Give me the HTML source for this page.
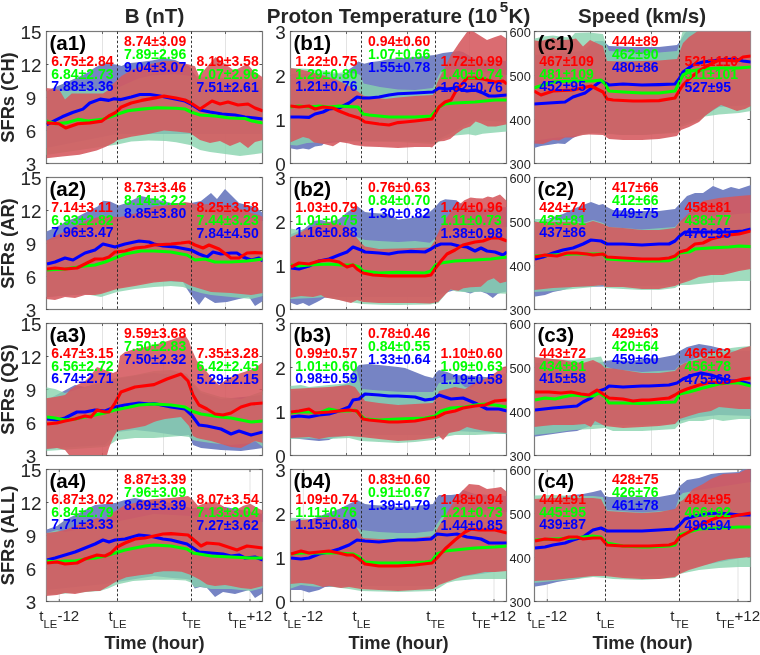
<!DOCTYPE html><html><head><meta charset="utf-8"><style>html,body{margin:0;padding:0;background:#fff;width:760px;height:655px;overflow:hidden}svg{display:block;will-change:transform}</style></head><body>
<svg width="760" height="655" viewBox="0 0 760 655" font-family='"Liberation Sans", sans-serif'>
<rect width="760" height="655" fill="#fff"/>
<g>
<clipPath id="cpa1"><rect x="46.5" y="31.5" width="216" height="132"/></clipPath>
<line x1="102.5" y1="31.5" x2="102.5" y2="163.5" stroke="#e3e3e3" stroke-width="1"/>
<line x1="163.5" y1="31.5" x2="163.5" y2="163.5" stroke="#e3e3e3" stroke-width="1"/>
<line x1="225.5" y1="31.5" x2="225.5" y2="163.5" stroke="#e3e3e3" stroke-width="1"/>
<rect x="46.5" y="31.5" width="216" height="132" fill="none" stroke="#7a7a7a" stroke-width="1.2"/>
<line x1="46" y1="163.5" x2="48.5" y2="163.5" stroke="#555" stroke-width="1"/>
<line x1="262" y1="163.5" x2="259.5" y2="163.5" stroke="#555" stroke-width="1"/>
<line x1="46" y1="130.5" x2="48.5" y2="130.5" stroke="#555" stroke-width="1"/>
<line x1="262" y1="130.5" x2="259.5" y2="130.5" stroke="#555" stroke-width="1"/>
<line x1="46" y1="97.5" x2="48.5" y2="97.5" stroke="#555" stroke-width="1"/>
<line x1="262" y1="97.5" x2="259.5" y2="97.5" stroke="#555" stroke-width="1"/>
<line x1="46" y1="64.5" x2="48.5" y2="64.5" stroke="#555" stroke-width="1"/>
<line x1="262" y1="64.5" x2="259.5" y2="64.5" stroke="#555" stroke-width="1"/>
<line x1="46" y1="31.5" x2="48.5" y2="31.5" stroke="#555" stroke-width="1"/>
<line x1="262" y1="31.5" x2="259.5" y2="31.5" stroke="#555" stroke-width="1"/>
<line x1="102.5" y1="163.5" x2="102.5" y2="161.0" stroke="#666" stroke-width="1"/>
<line x1="102.5" y1="31.5" x2="102.5" y2="34.0" stroke="#666" stroke-width="1"/>
<line x1="163.5" y1="163.5" x2="163.5" y2="161.0" stroke="#666" stroke-width="1"/>
<line x1="163.5" y1="31.5" x2="163.5" y2="34.0" stroke="#666" stroke-width="1"/>
<line x1="225.5" y1="163.5" x2="225.5" y2="161.0" stroke="#666" stroke-width="1"/>
<line x1="225.5" y1="31.5" x2="225.5" y2="34.0" stroke="#666" stroke-width="1"/>
<g clip-path="url(#cpa1)">
<polygon points="46.0,92.0 53.0,88.0 65.0,83.0 85.0,74.0 96.0,67.0 104.0,63.0 112.0,64.0 117.3,64.8 121.5,65.9 127.8,63.3 138.3,62.2 152.0,60.4 164.0,58.0 175.0,60.0 189.0,66.0 200.0,82.0 263.0,88.0 263.0,134.0 117.0,134.0 46.0,148.0" fill="rgb(118,132,196)" fill-opacity="1"/>
<polygon points="46.0,91.0 59.0,91.0 71.0,91.0 105.0,89.0 111.0,89.0 117.3,88.0 127.8,83.3 138.3,78.5 152.0,75.4 175.0,74.0 190.0,76.0 263.0,80.0 263.0,153.0 240.0,156.0 225.0,154.0 210.0,152.0 200.0,150.0 190.0,145.0 176.0,142.2 165.7,141.0 148.4,140.4 131.2,141.5 117.4,144.4 46.0,155.0" fill="rgb(136,211,174)" fill-opacity="0.8"/>
<polygon points="46.0,88.0 56.0,89.0 60.0,91.0 65.0,99.5 71.7,93.6 90.3,93.6 103.0,93.6 110.0,89.0 112.0,84.8 117.3,80.1 121.5,75.9 127.8,72.2 134.0,69.0 141.5,66.4 152.0,63.8 164.0,60.9 174.5,61.3 189.0,64.5 195.0,66.3 199.0,76.0 215.6,57.0 227.5,65.8 234.4,70.7 247.2,63.8 253.2,70.7 263.0,77.6 263.0,140.0 255.0,142.0 248.0,148.0 240.0,142.0 230.0,146.0 220.0,141.0 210.0,143.0 200.0,140.0 190.0,133.0 176.0,131.5 164.0,130.6 148.4,134.1 131.2,136.7 117.4,140.1 114.0,142.7 105.3,147.0 96.7,150.4 79.5,154.8 62.2,156.5 46.7,158.2" fill="rgb(213,88,93)" fill-opacity="0.88"/>
<polyline points="46.7,124.6 53.6,121.1 62.2,116.8 72.6,112.5 82.9,109.1 89.8,103.0 100.2,99.1 108.8,100.4 114.0,98.7 120.9,99.6 131.2,97.0 140.0,94.5 150.0,94.5 160.0,96.0 175.0,99.0 185.0,101.0 191.0,104.0 200.0,110.0 210.0,112.0 222.0,114.0 235.0,115.0 245.0,117.0 255.0,118.0 263.0,119.0" fill="none" stroke="#0000ff" stroke-width="3.1" stroke-linejoin="round"/>
<polyline points="46.7,121.1 55.3,123.7 65.7,122.9 77.8,119.4 88.1,121.1 101.9,119.4 110.5,116.8 117.4,114.2 127.8,110.8 141.6,109.1 157.1,107.7 176.0,108.2 185.0,109.0 191.0,112.0 200.0,115.0 215.0,116.0 230.0,118.0 245.0,118.5 252.0,121.0 263.0,123.0" fill="none" stroke="#00ff00" stroke-width="3.1" stroke-linejoin="round"/>
<polyline points="46.7,122.9 58.8,123.7 65.7,128.0 77.8,123.7 89.8,122.9 101.9,121.1 108.8,116.0 115.7,112.5 120.9,107.3 131.2,103.0 141.6,100.4 155.4,97.9 164.0,96.0 176.0,98.0 185.0,100.0 191.0,103.0 200.0,109.0 212.0,101.0 220.0,104.0 228.0,102.0 238.0,105.0 248.0,104.0 255.0,108.0 263.0,111.0" fill="none" stroke="#ff0000" stroke-width="3.1" stroke-linejoin="round"/>
</g>
<line x1="117.5" y1="31.5" x2="117.5" y2="163.5" stroke="#2a2a2a" stroke-width="0.95" stroke-dasharray="2.5,2.1"/>
<line x1="191.5" y1="31.5" x2="191.5" y2="163.5" stroke="#2a2a2a" stroke-width="0.95" stroke-dasharray="2.5,2.1"/>
<text x="31.1" y="170.8" font-size="18.9" text-anchor="middle" fill="#262626">3</text>
<text x="31.1" y="137.8" font-size="18.9" text-anchor="middle" fill="#262626">6</text>
<text x="31.1" y="104.8" font-size="18.9" text-anchor="middle" fill="#262626">9</text>
<text x="31.1" y="71.8" font-size="18.9" text-anchor="middle" fill="#262626">12</text>
<text x="31.1" y="38.8" font-size="18.9" text-anchor="middle" fill="#262626">15</text>
<text x="49.4" y="49.8" font-size="20.6" font-weight="bold" fill="#000">(a1)</text>
<text x="51.3" y="65.5" font-size="14" font-weight="bold" fill="#ff0000">6.75±2.84</text>
<text x="51.3" y="78.5" font-size="14" font-weight="bold" fill="#00ff00">6.84±2.73</text>
<text x="51.3" y="91.0" font-size="14" font-weight="bold" fill="#0000ff">7.88±3.36</text>
<text x="124" y="45.5" font-size="14" font-weight="bold" fill="#ff0000">8.74±3.09</text>
<text x="124" y="58.5" font-size="14" font-weight="bold" fill="#00ff00">7.89±2.96</text>
<text x="124" y="71.5" font-size="14" font-weight="bold" fill="#0000ff">9.04±3.07</text>
<text x="196.5" y="65.5" font-size="14" font-weight="bold" fill="#ff0000">8.19±3.58</text>
<text x="196.5" y="78.5" font-size="14" font-weight="bold" fill="#00ff00">7.07±2.96</text>
<text x="196.5" y="91.5" font-size="14" font-weight="bold" fill="#0000ff">7.51±2.61</text>
<g>
<clipPath id="cpb1"><rect x="290.5" y="31.5" width="216" height="132"/></clipPath>
<line x1="346.5" y1="31.5" x2="346.5" y2="163.5" stroke="#e3e3e3" stroke-width="1"/>
<line x1="407.5" y1="31.5" x2="407.5" y2="163.5" stroke="#e3e3e3" stroke-width="1"/>
<line x1="469.5" y1="31.5" x2="469.5" y2="163.5" stroke="#e3e3e3" stroke-width="1"/>
<rect x="290.5" y="31.5" width="216" height="132" fill="none" stroke="#7a7a7a" stroke-width="1.2"/>
<line x1="290" y1="163.5" x2="292.5" y2="163.5" stroke="#555" stroke-width="1"/>
<line x1="506" y1="163.5" x2="503.5" y2="163.5" stroke="#555" stroke-width="1"/>
<line x1="290" y1="119.5" x2="292.5" y2="119.5" stroke="#555" stroke-width="1"/>
<line x1="506" y1="119.5" x2="503.5" y2="119.5" stroke="#555" stroke-width="1"/>
<line x1="290" y1="75.5" x2="292.5" y2="75.5" stroke="#555" stroke-width="1"/>
<line x1="506" y1="75.5" x2="503.5" y2="75.5" stroke="#555" stroke-width="1"/>
<line x1="290" y1="31.5" x2="292.5" y2="31.5" stroke="#555" stroke-width="1"/>
<line x1="506" y1="31.5" x2="503.5" y2="31.5" stroke="#555" stroke-width="1"/>
<line x1="346.5" y1="163.5" x2="346.5" y2="161.0" stroke="#666" stroke-width="1"/>
<line x1="346.5" y1="31.5" x2="346.5" y2="34.0" stroke="#666" stroke-width="1"/>
<line x1="407.5" y1="163.5" x2="407.5" y2="161.0" stroke="#666" stroke-width="1"/>
<line x1="407.5" y1="31.5" x2="407.5" y2="34.0" stroke="#666" stroke-width="1"/>
<line x1="469.5" y1="163.5" x2="469.5" y2="161.0" stroke="#666" stroke-width="1"/>
<line x1="469.5" y1="31.5" x2="469.5" y2="34.0" stroke="#666" stroke-width="1"/>
<g clip-path="url(#cpb1)">
<polygon points="289.0,74.0 345.0,74.0 348.4,69.8 353.0,66.8 358.2,61.6 364.4,63.8 369.8,62.2 380.0,61.0 389.0,59.0 398.0,58.6 415.0,57.0 435.0,55.0 443.0,53.0 451.0,52.0 459.0,51.0 463.0,52.0 475.0,59.0 507.0,61.0 507.0,122.0 475.0,120.0 455.0,131.0 439.0,139.0 431.0,142.0 398.0,141.0 349.0,141.0 324.0,143.4 322.0,145.4 315.0,146.4 309.0,149.4 303.0,148.4 297.0,149.4 289.0,148.0" fill="rgb(118,132,196)" fill-opacity="1"/>
<polygon points="289.0,68.0 309.0,69.0 330.0,71.4 337.6,73.0 345.4,72.0 358.0,74.0 360.6,75.4 363.6,83.6 380.0,87.0 398.0,89.4 415.0,90.0 433.0,88.0 437.0,79.0 441.0,71.0 455.0,69.0 475.0,71.0 507.0,75.0 507.0,131.4 495.8,132.4 482.6,133.8 475.6,135.4 468.4,134.2 455.2,135.4 443.0,139.0 437.0,143.0 433.0,144.0 415.0,143.0 398.0,142.0 349.0,141.4 329.0,141.4 322.0,143.0 315.0,142.4 307.0,143.0 297.0,145.4 289.0,145.0" fill="rgb(136,211,174)" fill-opacity="0.8"/>
<polygon points="290.0,68.0 299.2,69.2 308.4,71.2 317.6,73.8 326.8,76.6 336.0,79.4 345.2,84.0 354.4,88.8 360.6,93.4 363.6,95.8 385.0,99.0 398.0,97.4 415.0,96.0 433.0,95.0 437.0,83.0 443.0,71.0 451.0,55.0 459.0,43.0 467.0,32.0 471.0,30.0 479.0,35.0 487.0,40.0 495.0,37.0 501.0,35.0 507.0,39.0 507.0,124.2 495.8,126.6 487.8,126.6 480.6,123.2 475.6,121.6 470.4,126.6 463.6,128.8 456.2,133.8 450.2,139.0 444.2,141.0 438.0,141.4 432.0,147.4 430.0,147.0 415.0,147.0 398.0,148.0 379.0,147.0 365.0,146.4 354.0,145.0 349.0,143.4 340.0,142.0 333.0,146.2 324.0,144.0 314.0,142.4 309.0,138.4 303.0,137.0 289.0,143.0" fill="rgb(213,88,93)" fill-opacity="0.88"/>
<polyline points="290.0,117.0 299.0,117.0 309.0,117.4 315.0,114.0 323.0,112.0 329.0,109.0 339.0,108.0 349.0,103.0 357.0,97.0 363.0,98.0 369.0,98.0 379.0,97.0 389.0,95.0 398.0,93.8 415.0,93.0 433.0,92.0 439.0,88.0 447.0,89.0 455.0,88.0 467.0,91.0 475.0,90.0 483.0,93.0 489.0,96.0 495.0,96.0 507.0,95.0" fill="none" stroke="#0000ff" stroke-width="3.1" stroke-linejoin="round"/>
<polyline points="290.0,107.0 299.0,106.0 309.0,107.0 319.0,106.0 329.0,107.0 339.0,106.0 349.0,106.6 358.0,107.0 363.0,114.0 369.0,115.0 389.0,117.0 398.0,117.0 415.0,117.0 431.0,116.0 439.0,107.0 445.0,104.0 455.0,103.0 475.0,102.0 495.0,100.0 507.0,100.0" fill="none" stroke="#00ff00" stroke-width="3.1" stroke-linejoin="round"/>
<polyline points="290.0,106.0 299.0,107.0 309.0,106.0 315.0,109.0 323.0,107.0 333.0,108.0 339.0,111.0 349.0,115.0 359.0,118.0 365.0,122.0 379.0,124.0 389.0,125.0 398.0,122.6 405.0,122.0 415.0,121.0 432.0,119.0 439.0,107.0 445.0,102.0 451.0,100.0 457.0,89.0 463.0,83.0 467.0,78.0 475.0,78.0 483.0,79.0 495.0,82.0 503.0,81.0 507.0,84.0" fill="none" stroke="#ff0000" stroke-width="3.1" stroke-linejoin="round"/>
</g>
<line x1="361.5" y1="31.5" x2="361.5" y2="163.5" stroke="#2a2a2a" stroke-width="0.95" stroke-dasharray="2.5,2.1"/>
<line x1="435.5" y1="31.5" x2="435.5" y2="163.5" stroke="#2a2a2a" stroke-width="0.95" stroke-dasharray="2.5,2.1"/>
<text x="280.4" y="170.8" font-size="18.9" text-anchor="middle" fill="#262626">0</text>
<text x="280.4" y="126.8" font-size="18.9" text-anchor="middle" fill="#262626">1</text>
<text x="280.4" y="82.8" font-size="18.9" text-anchor="middle" fill="#262626">2</text>
<text x="280.4" y="38.8" font-size="18.9" text-anchor="middle" fill="#262626">3</text>
<text x="293.4" y="49.8" font-size="20.6" font-weight="bold" fill="#000">(b1)</text>
<text x="295.3" y="65.5" font-size="14" font-weight="bold" fill="#ff0000">1.22±0.75</text>
<text x="295.3" y="78.5" font-size="14" font-weight="bold" fill="#00ff00">1.29±0.80</text>
<text x="295.3" y="91.0" font-size="14" font-weight="bold" fill="#0000ff">1.21±0.76</text>
<text x="368" y="45.5" font-size="14" font-weight="bold" fill="#ff0000">0.94±0.60</text>
<text x="368" y="58.5" font-size="14" font-weight="bold" fill="#00ff00">1.07±0.66</text>
<text x="368" y="71.5" font-size="14" font-weight="bold" fill="#0000ff">1.55±0.78</text>
<text x="440.5" y="65.5" font-size="14" font-weight="bold" fill="#ff0000">1.72±0.99</text>
<text x="440.5" y="78.5" font-size="14" font-weight="bold" fill="#00ff00">1.40±0.74</text>
<text x="440.5" y="91.5" font-size="14" font-weight="bold" fill="#0000ff">1.62±0.76</text>
<g>
<clipPath id="cpc1"><rect x="534.5" y="31.5" width="216" height="132"/></clipPath>
<line x1="590.5" y1="31.5" x2="590.5" y2="163.5" stroke="#e3e3e3" stroke-width="1"/>
<line x1="651.5" y1="31.5" x2="651.5" y2="163.5" stroke="#e3e3e3" stroke-width="1"/>
<line x1="713.5" y1="31.5" x2="713.5" y2="163.5" stroke="#e3e3e3" stroke-width="1"/>
<rect x="534.5" y="31.5" width="216" height="132" fill="none" stroke="#7a7a7a" stroke-width="1.2"/>
<line x1="534" y1="163.5" x2="536.5" y2="163.5" stroke="#555" stroke-width="1"/>
<line x1="750" y1="163.5" x2="747.5" y2="163.5" stroke="#555" stroke-width="1"/>
<line x1="534" y1="119.5" x2="536.5" y2="119.5" stroke="#555" stroke-width="1"/>
<line x1="750" y1="119.5" x2="747.5" y2="119.5" stroke="#555" stroke-width="1"/>
<line x1="534" y1="75.5" x2="536.5" y2="75.5" stroke="#555" stroke-width="1"/>
<line x1="750" y1="75.5" x2="747.5" y2="75.5" stroke="#555" stroke-width="1"/>
<line x1="534" y1="31.5" x2="536.5" y2="31.5" stroke="#555" stroke-width="1"/>
<line x1="750" y1="31.5" x2="747.5" y2="31.5" stroke="#555" stroke-width="1"/>
<line x1="590.5" y1="163.5" x2="590.5" y2="161.0" stroke="#666" stroke-width="1"/>
<line x1="590.5" y1="31.5" x2="590.5" y2="34.0" stroke="#666" stroke-width="1"/>
<line x1="651.5" y1="163.5" x2="651.5" y2="161.0" stroke="#666" stroke-width="1"/>
<line x1="651.5" y1="31.5" x2="651.5" y2="34.0" stroke="#666" stroke-width="1"/>
<line x1="713.5" y1="163.5" x2="713.5" y2="161.0" stroke="#666" stroke-width="1"/>
<line x1="713.5" y1="31.5" x2="713.5" y2="34.0" stroke="#666" stroke-width="1"/>
<g clip-path="url(#cpc1)">
<polygon points="533.0,55.0 583.0,51.0 595.0,41.0 603.0,41.0 609.0,46.0 633.0,47.0 642.0,47.0 659.0,47.0 677.0,45.0 679.6,42.0 685.0,33.0 689.0,30.0 751.0,30.0 751.0,105.0 719.0,107.0 699.0,119.0 681.0,125.0 677.0,132.0 642.0,135.0 623.0,135.0 603.0,133.0 583.0,133.0 573.0,138.0 565.0,144.0 558.0,143.4 548.0,145.0 541.0,146.0 533.0,148.4" fill="rgb(118,132,196)" fill-opacity="1"/>
<polygon points="533.0,39.0 543.0,36.4 553.0,35.4 563.0,37.0 571.0,37.4 575.0,33.0 589.0,32.4 603.0,34.0 605.0,41.0 609.0,51.0 633.0,52.6 642.0,53.0 659.0,52.6 677.0,51.0 679.6,43.0 683.0,30.0 751.0,30.0 751.0,111.0 739.0,113.0 719.0,114.6 705.0,116.6 699.0,121.0 681.0,127.0 677.0,133.0 642.0,135.0 623.0,135.0 593.0,133.0 573.0,136.0 553.0,138.0 533.0,141.0" fill="rgb(136,211,174)" fill-opacity="0.8"/>
<polygon points="533.0,40.0 538.0,41.0 543.0,40.4 553.0,37.8 555.4,39.0 563.0,40.0 571.0,39.4 576.0,38.4 583.0,46.4 590.0,40.0 603.0,46.0 605.0,54.0 607.0,61.0 623.0,61.4 642.0,61.0 659.0,60.6 677.0,59.0 680.0,51.0 683.0,43.0 689.0,37.0 695.0,33.0 699.0,30.0 751.0,30.0 751.0,106.0 745.0,109.0 737.0,111.0 729.0,108.0 721.0,105.0 713.0,110.0 705.0,116.0 699.0,122.0 689.0,127.0 681.0,130.0 677.0,136.0 659.0,139.0 642.0,140.0 623.0,140.0 609.0,139.0 603.0,135.0 589.0,134.4 583.0,135.0 573.0,137.4 565.0,137.4 559.0,140.4 553.0,140.0 543.0,144.0 533.0,143.4" fill="rgb(213,88,93)" fill-opacity="0.88"/>
<polyline points="534.0,104.0 549.0,103.0 565.0,102.0 573.0,97.0 585.0,93.0 593.0,87.0 601.0,81.0 605.0,83.0 609.0,85.0 623.0,84.0 642.0,85.0 659.0,84.6 675.0,84.0 679.0,79.0 683.0,72.0 693.0,65.0 703.0,62.0 719.0,60.0 735.0,59.0 743.0,61.0 751.0,62.0" fill="none" stroke="#0000ff" stroke-width="3.1" stroke-linejoin="round"/>
<polyline points="534.0,88.0 543.0,85.0 553.0,82.0 573.0,81.0 593.0,81.0 601.0,80.0 605.0,84.0 609.0,91.0 623.0,92.0 642.0,93.0 659.0,93.0 675.0,91.0 680.0,81.0 683.0,75.0 691.0,71.0 703.0,69.0 719.0,68.0 739.0,68.0 751.0,67.0" fill="none" stroke="#00ff00" stroke-width="3.1" stroke-linejoin="round"/>
<polyline points="534.0,91.0 541.0,95.0 553.0,91.0 573.0,90.0 591.0,86.0 597.0,89.0 603.0,92.0 607.0,99.0 613.0,100.0 633.0,101.0 642.0,101.0 659.0,100.6 675.0,98.0 679.0,91.0 683.0,85.0 689.0,79.0 699.0,71.0 707.0,66.0 719.0,60.0 737.0,61.0 743.0,57.0 751.0,56.0" fill="none" stroke="#ff0000" stroke-width="3.1" stroke-linejoin="round"/>
</g>
<line x1="605.5" y1="31.5" x2="605.5" y2="163.5" stroke="#2a2a2a" stroke-width="0.95" stroke-dasharray="2.5,2.1"/>
<line x1="679.5" y1="31.5" x2="679.5" y2="163.5" stroke="#2a2a2a" stroke-width="0.95" stroke-dasharray="2.5,2.1"/>
<text x="530.8" y="168.7" font-size="12.8" text-anchor="end" fill="#262626">300</text>
<text x="530.8" y="124.7" font-size="12.8" text-anchor="end" fill="#262626">400</text>
<text x="530.8" y="80.7" font-size="12.8" text-anchor="end" fill="#262626">500</text>
<text x="530.8" y="36.7" font-size="12.8" text-anchor="end" fill="#262626">600</text>
<text x="537.4" y="49.8" font-size="20.6" font-weight="bold" fill="#000">(c1)</text>
<text x="539.3" y="65.5" font-size="14" font-weight="bold" fill="#ff0000">467±109</text>
<text x="539.3" y="78.5" font-size="14" font-weight="bold" fill="#00ff00">481±109</text>
<text x="539.3" y="91.0" font-size="14" font-weight="bold" fill="#0000ff">452±95</text>
<text x="612" y="45.5" font-size="14" font-weight="bold" fill="#ff0000">444±89</text>
<text x="612" y="58.5" font-size="14" font-weight="bold" fill="#00ff00">462±90</text>
<text x="612" y="71.5" font-size="14" font-weight="bold" fill="#0000ff">480±86</text>
<text x="684.5" y="65.5" font-size="14" font-weight="bold" fill="#ff0000">521±110</text>
<text x="684.5" y="78.5" font-size="14" font-weight="bold" fill="#00ff00">511±101</text>
<text x="684.5" y="91.5" font-size="14" font-weight="bold" fill="#0000ff">527±95</text>
<g>
<clipPath id="cpa2"><rect x="46.5" y="177.5" width="216" height="132"/></clipPath>
<line x1="102.5" y1="177.5" x2="102.5" y2="309.5" stroke="#e3e3e3" stroke-width="1"/>
<line x1="163.5" y1="177.5" x2="163.5" y2="309.5" stroke="#e3e3e3" stroke-width="1"/>
<line x1="225.5" y1="177.5" x2="225.5" y2="309.5" stroke="#e3e3e3" stroke-width="1"/>
<rect x="46.5" y="177.5" width="216" height="132" fill="none" stroke="#7a7a7a" stroke-width="1.2"/>
<line x1="46" y1="309.5" x2="48.5" y2="309.5" stroke="#555" stroke-width="1"/>
<line x1="262" y1="309.5" x2="259.5" y2="309.5" stroke="#555" stroke-width="1"/>
<line x1="46" y1="276.5" x2="48.5" y2="276.5" stroke="#555" stroke-width="1"/>
<line x1="262" y1="276.5" x2="259.5" y2="276.5" stroke="#555" stroke-width="1"/>
<line x1="46" y1="243.5" x2="48.5" y2="243.5" stroke="#555" stroke-width="1"/>
<line x1="262" y1="243.5" x2="259.5" y2="243.5" stroke="#555" stroke-width="1"/>
<line x1="46" y1="210.5" x2="48.5" y2="210.5" stroke="#555" stroke-width="1"/>
<line x1="262" y1="210.5" x2="259.5" y2="210.5" stroke="#555" stroke-width="1"/>
<line x1="46" y1="177.5" x2="48.5" y2="177.5" stroke="#555" stroke-width="1"/>
<line x1="262" y1="177.5" x2="259.5" y2="177.5" stroke="#555" stroke-width="1"/>
<line x1="102.5" y1="309.5" x2="102.5" y2="307.0" stroke="#666" stroke-width="1"/>
<line x1="102.5" y1="177.5" x2="102.5" y2="180.0" stroke="#666" stroke-width="1"/>
<line x1="163.5" y1="309.5" x2="163.5" y2="307.0" stroke="#666" stroke-width="1"/>
<line x1="163.5" y1="177.5" x2="163.5" y2="180.0" stroke="#666" stroke-width="1"/>
<line x1="225.5" y1="309.5" x2="225.5" y2="307.0" stroke="#666" stroke-width="1"/>
<line x1="225.5" y1="177.5" x2="225.5" y2="180.0" stroke="#666" stroke-width="1"/>
<g clip-path="url(#cpa2)">
<polygon points="45.0,232.2 55.6,227.6 66.0,221.4 76.6,217.2 87.0,211.8 97.6,206.6 103.0,200.8 110.2,201.4 118.8,205.6 125.0,203.4 141.0,196.0 154.0,199.0 171.0,203.0 191.0,203.0 201.0,201.0 211.0,193.0 217.0,199.0 225.0,189.0 231.0,195.0 239.0,203.0 247.0,205.0 255.0,207.0 263.0,213.0 263.0,301.0 255.0,306.0 249.0,297.0 239.0,299.0 227.0,302.0 215.0,303.0 205.0,297.0 199.0,305.0 191.0,295.0 187.0,289.0 183.0,282.0 154.0,281.0 117.0,288.0 101.0,293.0 45.0,297.0" fill="rgb(118,132,196)" fill-opacity="1"/>
<polygon points="45.0,241.0 65.0,237.0 85.0,232.0 105.0,227.0 117.0,221.0 141.0,215.0 154.0,212.0 191.0,209.0 211.0,213.0 263.0,221.0 263.0,296.0 251.0,299.0 231.0,297.0 211.0,295.0 201.0,293.0 191.0,290.0 183.0,287.0 171.0,286.0 154.0,287.0 135.0,289.0 117.0,292.0 101.0,297.0 85.0,294.0 45.0,297.0" fill="rgb(136,211,174)" fill-opacity="0.8"/>
<polygon points="45.0,241.2 55.6,236.0 66.0,230.8 76.6,225.6 87.0,220.4 97.6,217.2 108.2,216.0 118.8,217.2 125.0,216.0 141.0,212.0 154.0,206.6 171.0,205.0 185.0,202.0 191.0,203.0 199.0,205.0 207.0,204.0 215.0,207.0 223.0,205.0 231.0,207.0 241.0,209.0 251.0,213.0 259.0,215.0 263.0,217.0 263.0,293.0 251.0,295.0 231.0,293.0 211.0,292.0 201.0,289.0 191.0,286.0 183.0,282.0 171.0,281.0 154.0,282.6 135.0,286.0 117.0,289.0 101.0,294.0 95.0,295.0 85.0,295.0 75.0,298.0 65.0,297.0 55.0,300.0 45.0,299.0" fill="rgb(213,88,93)" fill-opacity="0.88"/>
<polyline points="47.0,264.0 55.0,262.0 65.0,258.0 73.0,260.0 85.0,253.0 95.0,250.0 103.0,244.0 115.0,247.0 125.0,244.0 139.0,241.0 149.0,242.0 154.0,244.0 163.0,246.0 175.0,247.0 191.0,250.0 199.0,254.0 207.0,257.0 213.0,252.0 221.0,254.0 231.0,253.0 237.0,253.0 243.0,257.0 251.0,260.0 259.0,258.0 263.0,261.0" fill="none" stroke="#0000ff" stroke-width="3.1" stroke-linejoin="round"/>
<polyline points="47.0,270.0 65.0,269.0 85.0,266.0 95.0,265.0 105.0,262.0 115.0,258.0 125.0,254.0 141.0,251.0 154.0,251.0 171.0,252.0 187.0,255.0 195.0,260.0 205.0,259.0 215.0,262.0 231.0,262.0 247.0,261.0 263.0,259.0" fill="none" stroke="#00ff00" stroke-width="3.1" stroke-linejoin="round"/>
<polyline points="47.0,269.0 55.0,268.0 65.0,269.0 77.0,268.0 85.0,264.0 95.0,259.0 103.0,259.0 109.0,257.0 115.0,252.0 125.0,251.0 135.0,248.0 145.0,247.0 154.0,245.0 171.0,244.0 181.0,243.0 189.0,242.0 195.0,245.0 203.0,248.0 209.0,245.0 219.0,249.0 231.0,258.0 239.0,258.0 247.0,253.0 255.0,252.6 263.0,253.0" fill="none" stroke="#ff0000" stroke-width="3.1" stroke-linejoin="round"/>
</g>
<line x1="117.5" y1="177.5" x2="117.5" y2="309.5" stroke="#2a2a2a" stroke-width="0.95" stroke-dasharray="2.5,2.1"/>
<line x1="191.5" y1="177.5" x2="191.5" y2="309.5" stroke="#2a2a2a" stroke-width="0.95" stroke-dasharray="2.5,2.1"/>
<text x="31.1" y="316.8" font-size="18.9" text-anchor="middle" fill="#262626">3</text>
<text x="31.1" y="283.8" font-size="18.9" text-anchor="middle" fill="#262626">6</text>
<text x="31.1" y="250.8" font-size="18.9" text-anchor="middle" fill="#262626">9</text>
<text x="31.1" y="217.8" font-size="18.9" text-anchor="middle" fill="#262626">12</text>
<text x="31.1" y="184.8" font-size="18.9" text-anchor="middle" fill="#262626">15</text>
<text x="49.4" y="195.8" font-size="20.6" font-weight="bold" fill="#000">(a2)</text>
<text x="51.3" y="211.5" font-size="14" font-weight="bold" fill="#ff0000">7.14±3.11</text>
<text x="51.3" y="224.5" font-size="14" font-weight="bold" fill="#00ff00">6.93±2.82</text>
<text x="51.3" y="237.0" font-size="14" font-weight="bold" fill="#0000ff">7.96±3.47</text>
<text x="124" y="191.5" font-size="14" font-weight="bold" fill="#ff0000">8.73±3.46</text>
<text x="124" y="204.5" font-size="14" font-weight="bold" fill="#00ff00">8.14±3.22</text>
<text x="124" y="217.5" font-size="14" font-weight="bold" fill="#0000ff">8.85±3.80</text>
<text x="196.5" y="211.5" font-size="14" font-weight="bold" fill="#ff0000">8.25±3.58</text>
<text x="196.5" y="224.5" font-size="14" font-weight="bold" fill="#00ff00">7.44±3.23</text>
<text x="196.5" y="237.5" font-size="14" font-weight="bold" fill="#0000ff">7.84±4.50</text>
<g>
<clipPath id="cpb2"><rect x="290.5" y="177.5" width="216" height="132"/></clipPath>
<line x1="346.5" y1="177.5" x2="346.5" y2="309.5" stroke="#e3e3e3" stroke-width="1"/>
<line x1="407.5" y1="177.5" x2="407.5" y2="309.5" stroke="#e3e3e3" stroke-width="1"/>
<line x1="469.5" y1="177.5" x2="469.5" y2="309.5" stroke="#e3e3e3" stroke-width="1"/>
<rect x="290.5" y="177.5" width="216" height="132" fill="none" stroke="#7a7a7a" stroke-width="1.2"/>
<line x1="290" y1="309.5" x2="292.5" y2="309.5" stroke="#555" stroke-width="1"/>
<line x1="506" y1="309.5" x2="503.5" y2="309.5" stroke="#555" stroke-width="1"/>
<line x1="290" y1="265.5" x2="292.5" y2="265.5" stroke="#555" stroke-width="1"/>
<line x1="506" y1="265.5" x2="503.5" y2="265.5" stroke="#555" stroke-width="1"/>
<line x1="290" y1="221.5" x2="292.5" y2="221.5" stroke="#555" stroke-width="1"/>
<line x1="506" y1="221.5" x2="503.5" y2="221.5" stroke="#555" stroke-width="1"/>
<line x1="290" y1="177.5" x2="292.5" y2="177.5" stroke="#555" stroke-width="1"/>
<line x1="506" y1="177.5" x2="503.5" y2="177.5" stroke="#555" stroke-width="1"/>
<line x1="346.5" y1="309.5" x2="346.5" y2="307.0" stroke="#666" stroke-width="1"/>
<line x1="346.5" y1="177.5" x2="346.5" y2="180.0" stroke="#666" stroke-width="1"/>
<line x1="407.5" y1="309.5" x2="407.5" y2="307.0" stroke="#666" stroke-width="1"/>
<line x1="407.5" y1="177.5" x2="407.5" y2="180.0" stroke="#666" stroke-width="1"/>
<line x1="469.5" y1="309.5" x2="469.5" y2="307.0" stroke="#666" stroke-width="1"/>
<line x1="469.5" y1="177.5" x2="469.5" y2="180.0" stroke="#666" stroke-width="1"/>
<g clip-path="url(#cpb2)">
<polygon points="289.0,235.0 304.0,229.0 314.0,221.0 321.0,220.0 329.0,222.0 339.0,219.0 349.0,211.0 357.0,206.0 365.0,212.0 373.0,213.0 389.0,214.0 398.0,219.4 411.0,218.0 425.0,215.0 430.0,211.8 435.0,207.2 440.2,201.2 445.2,199.2 456.4,200.2 460.4,203.2 475.0,209.0 507.0,207.0 507.0,291.4 501.0,292.8 497.8,293.8 492.8,298.0 486.8,293.8 480.8,291.4 474.6,291.8 470.6,293.4 463.4,291.4 455.0,290.0 438.2,295.0 430.0,297.0 398.0,297.0 339.0,297.0 325.0,297.6 319.0,301.0 309.0,306.0 303.0,303.0 297.0,305.0 289.0,302.0" fill="rgb(118,132,196)" fill-opacity="1"/>
<polygon points="289.0,228.4 301.0,230.0 309.0,232.0 329.0,233.0 349.0,235.0 357.0,237.0 365.0,240.0 379.0,241.0 398.0,242.0 415.0,241.0 430.0,242.8 435.0,238.6 445.0,233.0 475.0,227.0 507.0,227.0 507.0,293.8 499.0,293.4 486.8,292.8 480.8,291.4 470.6,292.4 456.4,291.4 450.4,289.8 446.2,293.4 438.2,303.0 430.0,304.6 398.0,305.0 381.0,304.8 363.0,304.0 349.0,302.0 325.0,297.0 313.0,298.0 289.0,299.0" fill="rgb(136,211,174)" fill-opacity="0.8"/>
<polygon points="289.0,238.0 299.0,233.0 309.0,228.0 318.4,225.0 327.6,222.2 336.8,224.0 348.0,226.8 357.0,238.0 361.0,243.0 365.0,246.6 379.0,249.0 398.0,248.6 415.0,248.0 430.0,247.4 435.0,240.6 436.0,237.6 440.2,228.6 445.2,219.4 450.4,212.4 458.4,205.2 464.4,200.2 470.6,197.6 476.6,198.2 482.8,198.6 487.8,196.6 492.8,197.6 500.0,194.6 506.0,200.2 507.0,201.0 507.0,281.6 500.0,283.2 493.8,278.2 487.8,280.6 480.8,286.8 470.6,287.2 463.4,288.2 458.4,290.8 450.4,289.4 445.2,294.4 438.2,302.0 430.0,303.4 415.0,303.0 398.0,303.0 379.0,303.0 363.0,302.0 357.0,300.0 351.0,303.0 339.0,300.0 325.0,297.6 321.0,295.0 313.0,297.0 301.0,296.0 289.0,298.0" fill="rgb(213,88,93)" fill-opacity="0.88"/>
<polyline points="291.0,268.0 299.0,269.0 309.0,266.0 319.0,261.0 329.0,259.0 339.0,255.0 347.0,252.0 353.0,247.0 361.0,250.0 365.0,252.0 379.0,253.0 389.0,254.0 398.0,252.2 411.0,251.4 425.0,252.0 431.0,249.0 435.6,246.0 441.0,244.0 451.0,244.0 459.0,246.0 467.0,247.0 475.0,251.0 481.0,248.0 487.0,251.0 495.0,252.0 503.0,255.0 507.0,252.0" fill="none" stroke="#0000ff" stroke-width="3.1" stroke-linejoin="round"/>
<polyline points="291.0,265.0 299.0,266.0 309.0,265.0 329.0,264.0 341.0,265.0 353.0,265.0 359.0,267.0 363.0,271.0 379.0,273.0 398.0,272.4 425.0,273.0 431.0,271.0 435.6,265.0 441.0,263.0 455.0,261.0 475.0,260.0 491.0,259.0 507.0,257.0" fill="none" stroke="#00ff00" stroke-width="3.1" stroke-linejoin="round"/>
<polyline points="291.0,267.0 299.0,263.0 309.0,264.0 319.0,261.0 329.0,260.0 339.0,262.0 347.0,267.0 353.0,265.0 357.0,269.0 363.0,273.0 373.0,275.0 389.0,276.0 398.0,276.0 425.0,276.0 431.0,275.0 435.6,268.0 441.0,261.0 447.0,254.0 455.0,250.0 463.0,245.0 475.0,242.0 483.0,241.0 491.0,238.0 499.0,238.0 507.0,241.0" fill="none" stroke="#ff0000" stroke-width="3.1" stroke-linejoin="round"/>
</g>
<line x1="361.5" y1="177.5" x2="361.5" y2="309.5" stroke="#2a2a2a" stroke-width="0.95" stroke-dasharray="2.5,2.1"/>
<line x1="435.5" y1="177.5" x2="435.5" y2="309.5" stroke="#2a2a2a" stroke-width="0.95" stroke-dasharray="2.5,2.1"/>
<text x="280.4" y="316.8" font-size="18.9" text-anchor="middle" fill="#262626">0</text>
<text x="280.4" y="272.8" font-size="18.9" text-anchor="middle" fill="#262626">1</text>
<text x="280.4" y="228.8" font-size="18.9" text-anchor="middle" fill="#262626">2</text>
<text x="280.4" y="184.8" font-size="18.9" text-anchor="middle" fill="#262626">3</text>
<text x="293.4" y="195.8" font-size="20.6" font-weight="bold" fill="#000">(b2)</text>
<text x="295.3" y="211.5" font-size="14" font-weight="bold" fill="#ff0000">1.03±0.79</text>
<text x="295.3" y="224.5" font-size="14" font-weight="bold" fill="#00ff00">1.01±0.75</text>
<text x="295.3" y="237.0" font-size="14" font-weight="bold" fill="#0000ff">1.16±0.88</text>
<text x="368" y="191.5" font-size="14" font-weight="bold" fill="#ff0000">0.76±0.63</text>
<text x="368" y="204.5" font-size="14" font-weight="bold" fill="#00ff00">0.84±0.70</text>
<text x="368" y="217.5" font-size="14" font-weight="bold" fill="#0000ff">1.30±0.82</text>
<text x="440.5" y="211.5" font-size="14" font-weight="bold" fill="#ff0000">1.44±0.96</text>
<text x="440.5" y="224.5" font-size="14" font-weight="bold" fill="#00ff00">1.11±0.73</text>
<text x="440.5" y="237.5" font-size="14" font-weight="bold" fill="#0000ff">1.38±0.98</text>
<g>
<clipPath id="cpc2"><rect x="534.5" y="177.5" width="216" height="132"/></clipPath>
<line x1="590.5" y1="177.5" x2="590.5" y2="309.5" stroke="#e3e3e3" stroke-width="1"/>
<line x1="651.5" y1="177.5" x2="651.5" y2="309.5" stroke="#e3e3e3" stroke-width="1"/>
<line x1="713.5" y1="177.5" x2="713.5" y2="309.5" stroke="#e3e3e3" stroke-width="1"/>
<rect x="534.5" y="177.5" width="216" height="132" fill="none" stroke="#7a7a7a" stroke-width="1.2"/>
<line x1="534" y1="309.5" x2="536.5" y2="309.5" stroke="#555" stroke-width="1"/>
<line x1="750" y1="309.5" x2="747.5" y2="309.5" stroke="#555" stroke-width="1"/>
<line x1="534" y1="265.5" x2="536.5" y2="265.5" stroke="#555" stroke-width="1"/>
<line x1="750" y1="265.5" x2="747.5" y2="265.5" stroke="#555" stroke-width="1"/>
<line x1="534" y1="221.5" x2="536.5" y2="221.5" stroke="#555" stroke-width="1"/>
<line x1="750" y1="221.5" x2="747.5" y2="221.5" stroke="#555" stroke-width="1"/>
<line x1="534" y1="177.5" x2="536.5" y2="177.5" stroke="#555" stroke-width="1"/>
<line x1="750" y1="177.5" x2="747.5" y2="177.5" stroke="#555" stroke-width="1"/>
<line x1="590.5" y1="309.5" x2="590.5" y2="307.0" stroke="#666" stroke-width="1"/>
<line x1="590.5" y1="177.5" x2="590.5" y2="180.0" stroke="#666" stroke-width="1"/>
<line x1="651.5" y1="309.5" x2="651.5" y2="307.0" stroke="#666" stroke-width="1"/>
<line x1="651.5" y1="177.5" x2="651.5" y2="180.0" stroke="#666" stroke-width="1"/>
<line x1="713.5" y1="309.5" x2="713.5" y2="307.0" stroke="#666" stroke-width="1"/>
<line x1="713.5" y1="177.5" x2="713.5" y2="180.0" stroke="#666" stroke-width="1"/>
<g clip-path="url(#cpc2)">
<polygon points="533.0,224.0 545.0,220.0 553.0,217.0 563.0,214.0 573.0,209.0 583.0,205.0 591.0,202.0 599.0,205.0 603.0,204.0 607.0,207.0 613.0,210.0 633.0,211.0 642.0,211.0 659.0,211.0 675.0,209.0 679.6,204.0 687.0,196.0 695.0,193.0 703.0,193.0 713.0,186.0 723.0,190.0 731.0,187.0 739.0,189.0 751.0,185.0 751.0,268.0 699.0,276.0 679.6,283.0 675.0,285.0 642.0,286.0 573.0,287.0 563.0,290.0 553.0,292.0 545.0,295.0 533.0,297.0" fill="rgb(118,132,196)" fill-opacity="1"/>
<polygon points="533.0,219.0 553.0,219.0 573.0,220.0 583.0,223.0 593.0,220.0 603.0,223.0 609.0,227.0 623.0,228.0 642.0,229.4 675.0,227.0 679.6,222.0 699.0,217.0 751.0,213.0 751.0,281.0 739.0,281.0 719.0,282.0 699.0,284.0 689.0,285.0 679.6,285.0 675.0,288.0 659.0,290.0 642.0,290.0 623.0,289.0 605.0,288.0 603.0,285.0 593.0,287.0 573.0,289.0 553.0,291.0 533.0,292.0" fill="rgb(136,211,174)" fill-opacity="0.8"/>
<polygon points="533.0,222.0 553.0,222.0 573.0,222.0 583.0,224.0 593.0,221.0 603.0,224.0 609.0,227.0 623.0,228.0 642.0,230.0 659.0,230.0 675.0,228.0 679.6,222.0 685.0,217.0 691.0,211.0 703.0,201.0 719.0,198.0 739.0,196.0 751.0,195.0 751.0,269.0 739.0,271.0 723.0,275.0 711.0,275.0 699.0,277.0 689.0,281.0 679.6,284.0 675.0,286.0 659.0,289.0 642.0,289.0 623.0,287.0 605.0,287.0 603.0,285.0 593.0,286.0 573.0,287.0 553.0,288.0 533.0,290.0" fill="rgb(213,88,93)" fill-opacity="0.88"/>
<polyline points="535.0,259.0 543.0,257.0 553.0,253.0 563.0,250.0 573.0,248.0 583.0,244.0 591.0,240.0 601.0,241.0 607.0,244.0 623.0,244.0 642.0,245.0 659.0,244.0 669.0,244.0 675.0,241.0 679.6,236.0 685.0,232.0 695.0,232.0 711.0,232.0 729.0,232.0 743.0,231.0 751.0,229.0" fill="none" stroke="#0000ff" stroke-width="3.1" stroke-linejoin="round"/>
<polyline points="535.0,256.0 553.0,255.0 573.0,254.0 593.0,254.0 603.0,254.0 607.0,259.0 623.0,260.0 642.0,261.0 659.0,261.0 669.0,260.6 675.0,258.0 679.6,253.0 689.0,252.0 695.0,249.0 709.0,248.0 729.0,247.0 739.0,246.0 751.0,246.6" fill="none" stroke="#00ff00" stroke-width="3.1" stroke-linejoin="round"/>
<polyline points="535.0,257.0 545.0,255.0 557.0,256.0 567.0,253.0 577.0,253.0 587.0,254.0 593.0,255.0 603.0,254.0 607.0,257.0 623.0,258.0 642.0,259.0 659.0,259.0 669.0,258.0 675.0,256.0 679.6,252.0 687.0,250.0 695.0,244.0 703.0,243.0 711.0,239.0 719.0,237.0 729.0,235.0 739.0,234.0 751.0,231.0" fill="none" stroke="#ff0000" stroke-width="3.1" stroke-linejoin="round"/>
</g>
<line x1="605.5" y1="177.5" x2="605.5" y2="309.5" stroke="#2a2a2a" stroke-width="0.95" stroke-dasharray="2.5,2.1"/>
<line x1="679.5" y1="177.5" x2="679.5" y2="309.5" stroke="#2a2a2a" stroke-width="0.95" stroke-dasharray="2.5,2.1"/>
<text x="530.8" y="314.7" font-size="12.8" text-anchor="end" fill="#262626">300</text>
<text x="530.8" y="270.7" font-size="12.8" text-anchor="end" fill="#262626">400</text>
<text x="530.8" y="226.7" font-size="12.8" text-anchor="end" fill="#262626">500</text>
<text x="530.8" y="182.7" font-size="12.8" text-anchor="end" fill="#262626">600</text>
<text x="537.4" y="195.8" font-size="20.6" font-weight="bold" fill="#000">(c2)</text>
<text x="539.3" y="211.5" font-size="14" font-weight="bold" fill="#ff0000">424±74</text>
<text x="539.3" y="224.5" font-size="14" font-weight="bold" fill="#00ff00">425±81</text>
<text x="539.3" y="237.0" font-size="14" font-weight="bold" fill="#0000ff">437±86</text>
<text x="612" y="191.5" font-size="14" font-weight="bold" fill="#ff0000">417±66</text>
<text x="612" y="204.5" font-size="14" font-weight="bold" fill="#00ff00">412±66</text>
<text x="612" y="217.5" font-size="14" font-weight="bold" fill="#0000ff">449±75</text>
<text x="684.5" y="211.5" font-size="14" font-weight="bold" fill="#ff0000">458±81</text>
<text x="684.5" y="224.5" font-size="14" font-weight="bold" fill="#00ff00">438±77</text>
<text x="684.5" y="237.5" font-size="14" font-weight="bold" fill="#0000ff">476±95</text>
<g>
<clipPath id="cpa3"><rect x="46.5" y="323.5" width="216" height="132"/></clipPath>
<line x1="102.5" y1="323.5" x2="102.5" y2="455.5" stroke="#e3e3e3" stroke-width="1"/>
<line x1="163.5" y1="323.5" x2="163.5" y2="455.5" stroke="#e3e3e3" stroke-width="1"/>
<line x1="225.5" y1="323.5" x2="225.5" y2="455.5" stroke="#e3e3e3" stroke-width="1"/>
<rect x="46.5" y="323.5" width="216" height="132" fill="none" stroke="#7a7a7a" stroke-width="1.2"/>
<line x1="46" y1="455.5" x2="48.5" y2="455.5" stroke="#555" stroke-width="1"/>
<line x1="262" y1="455.5" x2="259.5" y2="455.5" stroke="#555" stroke-width="1"/>
<line x1="46" y1="422.5" x2="48.5" y2="422.5" stroke="#555" stroke-width="1"/>
<line x1="262" y1="422.5" x2="259.5" y2="422.5" stroke="#555" stroke-width="1"/>
<line x1="46" y1="389.5" x2="48.5" y2="389.5" stroke="#555" stroke-width="1"/>
<line x1="262" y1="389.5" x2="259.5" y2="389.5" stroke="#555" stroke-width="1"/>
<line x1="46" y1="356.5" x2="48.5" y2="356.5" stroke="#555" stroke-width="1"/>
<line x1="262" y1="356.5" x2="259.5" y2="356.5" stroke="#555" stroke-width="1"/>
<line x1="46" y1="323.5" x2="48.5" y2="323.5" stroke="#555" stroke-width="1"/>
<line x1="262" y1="323.5" x2="259.5" y2="323.5" stroke="#555" stroke-width="1"/>
<line x1="102.5" y1="455.5" x2="102.5" y2="453.0" stroke="#666" stroke-width="1"/>
<line x1="102.5" y1="323.5" x2="102.5" y2="326.0" stroke="#666" stroke-width="1"/>
<line x1="163.5" y1="455.5" x2="163.5" y2="453.0" stroke="#666" stroke-width="1"/>
<line x1="163.5" y1="323.5" x2="163.5" y2="326.0" stroke="#666" stroke-width="1"/>
<line x1="225.5" y1="455.5" x2="225.5" y2="453.0" stroke="#666" stroke-width="1"/>
<line x1="225.5" y1="323.5" x2="225.5" y2="326.0" stroke="#666" stroke-width="1"/>
<g clip-path="url(#cpa3)">
<polygon points="45.0,401.0 75.0,385.0 85.0,387.0 115.0,379.0 145.0,374.0 154.0,373.0 187.0,376.0 191.6,383.0 201.0,393.0 221.0,399.0 263.0,395.0 263.0,448.0 241.0,451.0 221.0,450.0 201.0,448.0 193.0,445.0 189.0,435.0 181.0,436.0 154.0,432.0 135.0,430.0 117.0,432.0 105.0,445.0 57.0,448.0 45.0,450.0" fill="rgb(118,132,196)" fill-opacity="1"/>
<polygon points="45.0,387.0 55.0,389.0 65.0,393.0 75.0,390.0 115.0,378.0 135.0,375.0 154.0,371.0 171.0,370.0 187.0,374.0 191.6,381.0 201.0,391.0 221.0,397.0 241.0,399.0 263.0,391.0 263.0,447.0 255.0,441.0 251.0,443.0 231.0,445.0 211.0,443.0 197.0,441.0 193.0,440.0 189.0,437.0 181.0,436.0 154.0,438.0 135.0,438.0 117.0,440.0 111.0,444.0 105.0,447.0 45.0,451.0" fill="rgb(136,211,174)" fill-opacity="0.8"/>
<polygon points="45.0,398.4 55.0,397.0 65.0,395.0 71.0,389.0 77.0,385.0 85.0,381.0 91.0,375.0 97.0,367.0 105.0,370.0 113.0,373.0 117.4,371.0 120.0,356.0 125.0,352.0 135.0,349.0 145.0,347.0 154.0,345.0 171.0,340.0 185.0,335.0 189.0,341.0 191.6,349.0 197.0,361.0 203.0,367.0 211.0,377.0 219.0,385.0 227.0,379.0 235.0,375.0 247.0,371.0 255.0,368.0 263.0,362.0 263.0,443.0 255.0,441.0 251.0,443.0 241.0,448.0 231.0,447.0 221.0,444.0 211.0,441.0 201.0,439.0 197.0,438.0 193.0,436.0 189.0,426.0 181.0,417.0 165.0,419.0 157.0,421.0 154.0,422.0 145.0,426.0 129.0,429.0 117.0,431.0 113.0,438.0 109.0,448.0 107.0,455.0 69.0,455.0 65.0,450.0 57.0,448.0 45.0,449.0" fill="rgb(213,88,93)" fill-opacity="0.88"/>
<polyline points="47.0,419.0 57.0,420.0 65.0,418.0 77.0,412.0 85.0,412.0 95.0,410.0 105.0,411.0 115.0,407.0 125.0,405.0 139.0,403.0 149.0,404.0 154.0,403.6 171.0,407.0 185.0,409.0 191.6,415.0 199.0,425.0 207.0,426.0 221.0,429.0 231.0,434.0 239.0,431.0 251.0,435.0 263.0,432.0" fill="none" stroke="#0000ff" stroke-width="3.1" stroke-linejoin="round"/>
<polyline points="47.0,417.0 55.0,418.0 65.0,420.0 75.0,419.0 85.0,417.0 95.0,415.0 105.0,413.0 115.0,410.0 125.0,408.0 139.0,405.0 154.0,404.0 171.0,405.0 185.0,407.0 191.6,411.0 201.0,414.0 221.0,417.0 231.0,418.0 251.0,422.0 263.0,421.0" fill="none" stroke="#00ff00" stroke-width="3.1" stroke-linejoin="round"/>
<polyline points="47.0,424.0 57.0,423.0 65.0,421.0 75.0,419.0 85.0,416.0 91.0,417.0 97.0,410.0 105.0,412.0 109.0,412.0 115.0,403.0 121.0,392.0 135.0,387.0 154.0,384.6 167.0,379.0 181.0,374.0 188.0,381.0 193.0,395.0 199.0,405.0 207.0,409.0 215.0,414.0 223.0,415.0 231.0,413.0 241.0,407.0 251.0,404.0 263.0,403.0" fill="none" stroke="#ff0000" stroke-width="3.1" stroke-linejoin="round"/>
</g>
<line x1="117.5" y1="323.5" x2="117.5" y2="455.5" stroke="#2a2a2a" stroke-width="0.95" stroke-dasharray="2.5,2.1"/>
<line x1="191.5" y1="323.5" x2="191.5" y2="455.5" stroke="#2a2a2a" stroke-width="0.95" stroke-dasharray="2.5,2.1"/>
<text x="31.1" y="462.8" font-size="18.9" text-anchor="middle" fill="#262626">3</text>
<text x="31.1" y="429.8" font-size="18.9" text-anchor="middle" fill="#262626">6</text>
<text x="31.1" y="396.8" font-size="18.9" text-anchor="middle" fill="#262626">9</text>
<text x="31.1" y="363.8" font-size="18.9" text-anchor="middle" fill="#262626">12</text>
<text x="31.1" y="330.8" font-size="18.9" text-anchor="middle" fill="#262626">15</text>
<text x="49.4" y="341.8" font-size="20.6" font-weight="bold" fill="#000">(a3)</text>
<text x="51.3" y="357.5" font-size="14" font-weight="bold" fill="#ff0000">6.47±3.15</text>
<text x="51.3" y="370.5" font-size="14" font-weight="bold" fill="#00ff00">6.56±2.72</text>
<text x="51.3" y="383.0" font-size="14" font-weight="bold" fill="#0000ff">6.74±2.71</text>
<text x="124" y="337.5" font-size="14" font-weight="bold" fill="#ff0000">9.59±3.68</text>
<text x="124" y="350.5" font-size="14" font-weight="bold" fill="#00ff00">7.50±2.83</text>
<text x="124" y="363.5" font-size="14" font-weight="bold" fill="#0000ff">7.50±2.32</text>
<text x="196.5" y="357.5" font-size="14" font-weight="bold" fill="#ff0000">7.35±3.28</text>
<text x="196.5" y="370.5" font-size="14" font-weight="bold" fill="#00ff00">6.42±2.45</text>
<text x="196.5" y="383.5" font-size="14" font-weight="bold" fill="#0000ff">5.29±2.15</text>
<g>
<clipPath id="cpb3"><rect x="290.5" y="323.5" width="216" height="132"/></clipPath>
<line x1="346.5" y1="323.5" x2="346.5" y2="455.5" stroke="#e3e3e3" stroke-width="1"/>
<line x1="407.5" y1="323.5" x2="407.5" y2="455.5" stroke="#e3e3e3" stroke-width="1"/>
<line x1="469.5" y1="323.5" x2="469.5" y2="455.5" stroke="#e3e3e3" stroke-width="1"/>
<rect x="290.5" y="323.5" width="216" height="132" fill="none" stroke="#7a7a7a" stroke-width="1.2"/>
<line x1="290" y1="455.5" x2="292.5" y2="455.5" stroke="#555" stroke-width="1"/>
<line x1="506" y1="455.5" x2="503.5" y2="455.5" stroke="#555" stroke-width="1"/>
<line x1="290" y1="411.5" x2="292.5" y2="411.5" stroke="#555" stroke-width="1"/>
<line x1="506" y1="411.5" x2="503.5" y2="411.5" stroke="#555" stroke-width="1"/>
<line x1="290" y1="367.5" x2="292.5" y2="367.5" stroke="#555" stroke-width="1"/>
<line x1="506" y1="367.5" x2="503.5" y2="367.5" stroke="#555" stroke-width="1"/>
<line x1="290" y1="323.5" x2="292.5" y2="323.5" stroke="#555" stroke-width="1"/>
<line x1="506" y1="323.5" x2="503.5" y2="323.5" stroke="#555" stroke-width="1"/>
<line x1="346.5" y1="455.5" x2="346.5" y2="453.0" stroke="#666" stroke-width="1"/>
<line x1="346.5" y1="323.5" x2="346.5" y2="326.0" stroke="#666" stroke-width="1"/>
<line x1="407.5" y1="455.5" x2="407.5" y2="453.0" stroke="#666" stroke-width="1"/>
<line x1="407.5" y1="323.5" x2="407.5" y2="326.0" stroke="#666" stroke-width="1"/>
<line x1="469.5" y1="455.5" x2="469.5" y2="453.0" stroke="#666" stroke-width="1"/>
<line x1="469.5" y1="323.5" x2="469.5" y2="326.0" stroke="#666" stroke-width="1"/>
<g clip-path="url(#cpb3)">
<polygon points="289.0,391.0 329.0,389.0 349.0,383.0 353.0,371.0 359.0,365.0 369.0,364.0 389.0,366.0 398.0,367.0 405.0,368.0 415.0,372.0 425.0,376.0 433.0,378.0 435.6,373.0 439.0,370.0 447.0,372.0 455.0,375.0 475.0,376.0 495.0,378.0 507.0,380.0 507.0,434.2 495.0,433.0 475.0,432.0 455.0,431.0 439.0,435.0 433.0,435.0 398.0,435.0 349.0,435.0 333.0,438.0 329.0,440.0 319.0,441.0 309.0,440.0 289.0,438.0" fill="rgb(118,132,196)" fill-opacity="1"/>
<polygon points="289.0,386.0 301.0,385.0 309.0,387.0 319.0,386.0 329.0,385.0 339.0,384.0 349.0,383.0 353.0,373.0 357.0,371.0 360.0,383.0 361.0,389.0 379.0,390.4 398.0,391.8 415.0,392.0 433.0,392.0 435.6,389.0 439.0,383.0 445.0,381.0 455.0,379.0 465.0,387.0 471.0,388.0 479.0,383.0 495.0,375.0 507.0,373.0 507.0,434.0 495.0,434.0 475.0,435.0 455.0,435.0 439.0,438.0 433.0,440.0 415.0,442.0 398.0,443.0 379.0,442.0 361.0,441.0 349.0,438.0 329.0,439.0 309.0,438.6 289.0,439.0" fill="rgb(136,211,174)" fill-opacity="0.8"/>
<polygon points="289.0,389.0 309.0,388.0 329.0,387.0 349.0,385.0 355.0,387.0 360.0,394.0 365.0,401.0 379.0,403.0 398.0,405.0 415.0,404.0 433.0,403.0 435.6,399.0 439.0,391.0 455.0,387.0 465.0,389.0 475.0,383.0 485.0,379.0 495.0,373.0 503.0,367.0 507.0,366.0 507.0,433.0 495.0,432.0 485.0,431.0 475.0,429.0 467.0,427.0 459.0,431.0 449.0,433.0 443.0,440.0 439.0,436.0 433.0,438.0 415.0,440.0 398.0,441.0 379.0,439.0 361.0,437.0 349.0,436.0 329.0,437.0 319.0,439.0 309.0,437.0 289.0,438.0" fill="rgb(213,88,93)" fill-opacity="0.88"/>
<polyline points="291.0,417.0 299.0,416.0 309.0,417.0 319.0,415.0 329.0,414.0 339.0,411.0 349.0,407.0 353.0,400.0 359.0,399.0 365.0,394.0 379.0,395.0 389.0,396.0 398.0,396.0 415.0,397.0 425.0,400.0 433.0,399.0 439.0,395.0 451.0,399.0 463.0,398.0 475.0,403.0 487.0,409.0 499.0,409.0 507.0,411.0" fill="none" stroke="#0000ff" stroke-width="3.1" stroke-linejoin="round"/>
<polyline points="291.0,413.0 299.0,412.0 309.0,412.0 319.0,413.0 329.0,409.0 339.0,411.0 349.0,411.0 355.0,410.0 359.0,414.0 365.0,419.0 379.0,420.0 398.0,419.0 425.0,418.0 435.0,416.0 441.0,411.0 451.0,408.0 465.0,407.0 475.0,405.0 485.0,404.0 495.0,405.0 507.0,407.0" fill="none" stroke="#00ff00" stroke-width="3.1" stroke-linejoin="round"/>
<polyline points="291.0,412.0 299.0,411.0 309.0,409.0 315.0,413.0 329.0,412.0 339.0,411.0 349.0,410.0 357.0,411.0 363.0,419.0 369.0,420.0 389.0,422.0 398.0,422.0 415.0,421.0 431.0,418.0 437.0,417.0 445.0,413.0 455.0,411.0 463.0,408.0 475.0,406.0 485.0,405.0 495.0,401.0 507.0,400.0" fill="none" stroke="#ff0000" stroke-width="3.1" stroke-linejoin="round"/>
</g>
<line x1="361.5" y1="323.5" x2="361.5" y2="455.5" stroke="#2a2a2a" stroke-width="0.95" stroke-dasharray="2.5,2.1"/>
<line x1="435.5" y1="323.5" x2="435.5" y2="455.5" stroke="#2a2a2a" stroke-width="0.95" stroke-dasharray="2.5,2.1"/>
<text x="280.4" y="462.8" font-size="18.9" text-anchor="middle" fill="#262626">0</text>
<text x="280.4" y="418.8" font-size="18.9" text-anchor="middle" fill="#262626">1</text>
<text x="280.4" y="374.8" font-size="18.9" text-anchor="middle" fill="#262626">2</text>
<text x="280.4" y="330.8" font-size="18.9" text-anchor="middle" fill="#262626">3</text>
<text x="293.4" y="341.8" font-size="20.6" font-weight="bold" fill="#000">(b3)</text>
<text x="295.3" y="357.5" font-size="14" font-weight="bold" fill="#ff0000">0.99±0.57</text>
<text x="295.3" y="370.5" font-size="14" font-weight="bold" fill="#00ff00">1.01±0.60</text>
<text x="295.3" y="383.0" font-size="14" font-weight="bold" fill="#0000ff">0.98±0.59</text>
<text x="368" y="337.5" font-size="14" font-weight="bold" fill="#ff0000">0.78±0.46</text>
<text x="368" y="350.5" font-size="14" font-weight="bold" fill="#00ff00">0.84±0.55</text>
<text x="368" y="363.5" font-size="14" font-weight="bold" fill="#0000ff">1.33±0.64</text>
<text x="440.5" y="357.5" font-size="14" font-weight="bold" fill="#ff0000">1.10±0.60</text>
<text x="440.5" y="370.5" font-size="14" font-weight="bold" fill="#00ff00">1.09±0.63</text>
<text x="440.5" y="383.5" font-size="14" font-weight="bold" fill="#0000ff">1.19±0.58</text>
<g>
<clipPath id="cpc3"><rect x="534.5" y="323.5" width="216" height="132"/></clipPath>
<line x1="590.5" y1="323.5" x2="590.5" y2="455.5" stroke="#e3e3e3" stroke-width="1"/>
<line x1="651.5" y1="323.5" x2="651.5" y2="455.5" stroke="#e3e3e3" stroke-width="1"/>
<line x1="713.5" y1="323.5" x2="713.5" y2="455.5" stroke="#e3e3e3" stroke-width="1"/>
<rect x="534.5" y="323.5" width="216" height="132" fill="none" stroke="#7a7a7a" stroke-width="1.2"/>
<line x1="534" y1="455.5" x2="536.5" y2="455.5" stroke="#555" stroke-width="1"/>
<line x1="750" y1="455.5" x2="747.5" y2="455.5" stroke="#555" stroke-width="1"/>
<line x1="534" y1="411.5" x2="536.5" y2="411.5" stroke="#555" stroke-width="1"/>
<line x1="750" y1="411.5" x2="747.5" y2="411.5" stroke="#555" stroke-width="1"/>
<line x1="534" y1="367.5" x2="536.5" y2="367.5" stroke="#555" stroke-width="1"/>
<line x1="750" y1="367.5" x2="747.5" y2="367.5" stroke="#555" stroke-width="1"/>
<line x1="534" y1="323.5" x2="536.5" y2="323.5" stroke="#555" stroke-width="1"/>
<line x1="750" y1="323.5" x2="747.5" y2="323.5" stroke="#555" stroke-width="1"/>
<line x1="590.5" y1="455.5" x2="590.5" y2="453.0" stroke="#666" stroke-width="1"/>
<line x1="590.5" y1="323.5" x2="590.5" y2="326.0" stroke="#666" stroke-width="1"/>
<line x1="651.5" y1="455.5" x2="651.5" y2="453.0" stroke="#666" stroke-width="1"/>
<line x1="651.5" y1="323.5" x2="651.5" y2="326.0" stroke="#666" stroke-width="1"/>
<line x1="713.5" y1="455.5" x2="713.5" y2="453.0" stroke="#666" stroke-width="1"/>
<line x1="713.5" y1="323.5" x2="713.5" y2="326.0" stroke="#666" stroke-width="1"/>
<g clip-path="url(#cpc3)">
<polygon points="533.0,363.0 593.0,363.0 603.0,362.0 605.0,361.0 613.0,360.0 633.0,361.0 642.0,359.0 659.0,358.0 675.0,355.0 679.6,351.0 687.0,347.0 699.0,344.0 711.0,346.0 719.0,348.0 729.0,350.0 739.0,351.0 751.0,351.0 751.0,416.0 719.0,415.0 699.0,417.0 679.6,421.0 675.0,424.0 642.0,425.0 593.0,425.0 577.0,431.0 567.0,432.0 553.0,434.0 533.0,437.0" fill="rgb(118,132,196)" fill-opacity="1"/>
<polygon points="533.0,358.0 573.0,360.0 593.0,357.4 601.0,356.6 605.0,366.0 613.0,369.0 642.0,372.0 675.0,370.0 679.6,365.0 699.0,357.0 719.0,351.0 731.0,348.0 739.0,347.0 751.0,346.0 751.0,419.0 739.0,419.0 723.0,421.0 713.0,419.0 703.0,421.0 689.0,421.0 679.6,424.0 675.0,429.0 659.0,430.0 642.0,431.0 633.0,431.0 613.0,431.0 605.0,428.0 593.0,429.0 573.0,430.0 553.0,433.0 533.0,435.0" fill="rgb(136,211,174)" fill-opacity="0.8"/>
<polygon points="533.0,357.0 553.0,359.0 563.0,360.0 573.0,362.0 583.0,363.0 593.0,360.0 601.0,364.0 605.0,368.0 613.0,368.6 623.0,370.0 642.0,373.0 659.0,373.0 675.0,371.0 679.6,366.0 685.0,363.0 699.0,359.0 711.0,357.0 723.0,355.0 735.0,351.0 743.0,348.0 751.0,346.0 751.0,409.0 739.0,409.0 729.0,408.0 719.0,407.0 711.0,411.0 699.0,413.0 689.0,416.0 679.6,419.0 675.0,424.0 659.0,426.0 642.0,427.0 623.0,428.0 605.0,426.0 595.0,421.0 591.0,427.0 585.0,424.0 573.0,425.0 553.0,425.0 543.0,426.0 533.0,427.0" fill="rgb(213,88,93)" fill-opacity="0.88"/>
<polyline points="535.0,410.0 553.0,408.0 577.0,406.0 583.0,402.0 591.0,398.0 599.0,391.0 605.0,389.0 609.0,386.0 623.0,387.0 642.0,386.0 649.0,386.0 669.0,385.0 677.0,383.0 683.0,379.0 693.0,375.0 701.0,373.0 711.0,375.0 723.0,379.0 731.0,381.0 739.0,381.0 751.0,384.0" fill="none" stroke="#0000ff" stroke-width="3.1" stroke-linejoin="round"/>
<polyline points="535.0,400.0 545.0,398.0 555.0,399.0 563.0,397.0 573.0,395.0 583.0,396.0 593.0,396.0 599.0,393.0 605.0,397.0 609.0,403.0 623.0,403.0 642.0,403.4 649.0,403.0 675.0,402.0 679.6,394.0 689.0,392.0 703.0,388.0 719.0,384.0 729.0,383.0 739.0,383.0 751.0,386.0" fill="none" stroke="#00ff00" stroke-width="3.1" stroke-linejoin="round"/>
<polyline points="535.0,392.0 549.0,392.0 561.0,393.0 571.0,392.0 581.0,394.0 589.0,395.0 597.0,390.0 603.0,394.0 609.0,398.0 623.0,399.0 633.0,401.0 642.0,400.0 649.0,400.0 669.0,398.0 675.0,395.0 679.6,392.0 687.0,389.0 699.0,385.0 711.0,382.0 723.0,383.0 735.0,381.0 743.0,379.0 751.0,378.0" fill="none" stroke="#ff0000" stroke-width="3.1" stroke-linejoin="round"/>
</g>
<line x1="605.5" y1="323.5" x2="605.5" y2="455.5" stroke="#2a2a2a" stroke-width="0.95" stroke-dasharray="2.5,2.1"/>
<line x1="679.5" y1="323.5" x2="679.5" y2="455.5" stroke="#2a2a2a" stroke-width="0.95" stroke-dasharray="2.5,2.1"/>
<text x="530.8" y="460.7" font-size="12.8" text-anchor="end" fill="#262626">300</text>
<text x="530.8" y="416.7" font-size="12.8" text-anchor="end" fill="#262626">400</text>
<text x="530.8" y="372.7" font-size="12.8" text-anchor="end" fill="#262626">500</text>
<text x="530.8" y="328.7" font-size="12.8" text-anchor="end" fill="#262626">600</text>
<text x="537.4" y="341.8" font-size="20.6" font-weight="bold" fill="#000">(c3)</text>
<text x="539.3" y="357.5" font-size="14" font-weight="bold" fill="#ff0000">443±72</text>
<text x="539.3" y="370.5" font-size="14" font-weight="bold" fill="#00ff00">434±81</text>
<text x="539.3" y="383.0" font-size="14" font-weight="bold" fill="#0000ff">415±58</text>
<text x="612" y="337.5" font-size="14" font-weight="bold" fill="#ff0000">429±63</text>
<text x="612" y="350.5" font-size="14" font-weight="bold" fill="#00ff00">420±64</text>
<text x="612" y="363.5" font-size="14" font-weight="bold" fill="#0000ff">459±60</text>
<text x="684.5" y="357.5" font-size="14" font-weight="bold" fill="#ff0000">466±62</text>
<text x="684.5" y="370.5" font-size="14" font-weight="bold" fill="#00ff00">456±78</text>
<text x="684.5" y="383.5" font-size="14" font-weight="bold" fill="#0000ff">475±68</text>
<g>
<clipPath id="cpa4"><rect x="46.5" y="469.5" width="216" height="132"/></clipPath>
<line x1="59.3" y1="469.5" x2="59.3" y2="601.5" stroke="#e3e3e3" stroke-width="1"/>
<line x1="250" y1="469.5" x2="250" y2="601.5" stroke="#e3e3e3" stroke-width="1"/>
<rect x="46.5" y="469.5" width="216" height="132" fill="none" stroke="#7a7a7a" stroke-width="1.2"/>
<line x1="46" y1="601.5" x2="48.5" y2="601.5" stroke="#555" stroke-width="1"/>
<line x1="262" y1="601.5" x2="259.5" y2="601.5" stroke="#555" stroke-width="1"/>
<line x1="46" y1="568.5" x2="48.5" y2="568.5" stroke="#555" stroke-width="1"/>
<line x1="262" y1="568.5" x2="259.5" y2="568.5" stroke="#555" stroke-width="1"/>
<line x1="46" y1="535.5" x2="48.5" y2="535.5" stroke="#555" stroke-width="1"/>
<line x1="262" y1="535.5" x2="259.5" y2="535.5" stroke="#555" stroke-width="1"/>
<line x1="46" y1="502.5" x2="48.5" y2="502.5" stroke="#555" stroke-width="1"/>
<line x1="262" y1="502.5" x2="259.5" y2="502.5" stroke="#555" stroke-width="1"/>
<line x1="46" y1="469.5" x2="48.5" y2="469.5" stroke="#555" stroke-width="1"/>
<line x1="262" y1="469.5" x2="259.5" y2="469.5" stroke="#555" stroke-width="1"/>
<line x1="59.3" y1="601.5" x2="59.3" y2="599.0" stroke="#666" stroke-width="1"/>
<line x1="59.3" y1="469.5" x2="59.3" y2="472.0" stroke="#666" stroke-width="1"/>
<line x1="250" y1="601.5" x2="250" y2="599.0" stroke="#666" stroke-width="1"/>
<line x1="250" y1="469.5" x2="250" y2="472.0" stroke="#666" stroke-width="1"/>
<g clip-path="url(#cpa4)">
<polygon points="45.0,530.0 57.0,526.0 65.0,520.0 75.0,515.0 85.0,510.0 95.0,505.0 105.0,504.0 115.0,503.0 125.0,500.0 135.0,498.0 145.0,500.0 154.0,500.0 171.0,503.0 191.0,508.0 225.6,507.0 263.0,514.0 263.0,593.0 255.0,598.0 249.0,590.0 235.0,594.0 223.0,592.0 215.0,597.0 207.0,588.0 200.0,587.0 194.8,588.6 189.6,579.8 185.6,579.0 172.4,578.0 154.0,576.0 105.0,584.0 45.0,590.0" fill="rgb(118,132,196)" fill-opacity="1"/>
<polygon points="45.0,533.6 57.0,530.0 65.0,532.0 105.0,524.0 154.0,514.0 191.0,516.0 263.0,522.0 263.0,588.0 251.0,591.0 231.0,589.0 211.0,589.0 200.0,586.4 194.8,587.6 190.8,582.4 185.6,580.4 172.4,579.8 154.0,579.8 152.6,579.8 133.0,581.0 117.0,584.4 108.0,588.4 100.0,591.0 45.0,595.0" fill="rgb(136,211,174)" fill-opacity="0.8"/>
<polygon points="45.0,533.0 55.0,532.0 65.0,530.0 75.0,526.0 85.0,522.4 97.0,518.0 105.0,520.0 111.0,514.0 117.0,510.0 125.0,505.0 135.0,503.0 145.0,500.0 154.0,499.0 171.0,498.0 188.0,496.0 192.0,498.8 198.0,505.8 205.8,502.8 215.6,501.8 225.6,507.8 234.4,510.8 243.4,505.8 250.2,503.8 257.2,507.8 263.0,510.8 263.0,586.0 251.0,589.0 241.0,588.0 231.0,586.0 225.0,585.0 215.0,586.0 207.0,584.4 200.0,579.8 189.6,574.6 181.6,571.8 173.8,571.2 163.2,571.2 154.0,572.4 152.6,573.8 139.6,575.2 126.4,577.2 117.0,581.0 108.0,586.4 100.0,591.0 95.0,591.0 85.0,592.0 75.0,594.0 65.0,593.0 57.0,595.0 45.0,596.0" fill="rgb(213,88,93)" fill-opacity="0.88"/>
<polyline points="47.0,560.0 55.0,558.0 65.0,555.0 75.0,552.0 85.0,548.0 95.0,544.0 103.0,540.0 109.0,542.0 115.0,540.0 125.0,539.0 139.0,535.0 149.0,536.0 154.0,537.0 163.0,539.0 171.0,540.0 187.0,544.0 191.6,547.0 199.0,552.0 211.0,553.0 223.0,554.0 231.0,556.0 239.0,555.0 245.0,558.0 255.0,557.0 263.0,560.0" fill="none" stroke="#0000ff" stroke-width="3.1" stroke-linejoin="round"/>
<polyline points="47.0,561.0 55.0,562.0 65.0,561.0 75.0,561.0 85.0,559.0 95.0,558.0 105.0,556.0 115.0,553.0 125.0,550.0 135.0,548.0 145.0,546.0 154.0,545.0 171.0,546.0 187.0,549.0 193.0,553.0 211.0,556.0 231.0,557.0 251.0,558.0 263.0,558.0" fill="none" stroke="#00ff00" stroke-width="3.1" stroke-linejoin="round"/>
<polyline points="47.0,563.0 57.0,562.0 65.0,564.0 77.0,563.0 85.0,559.0 97.0,555.0 105.0,556.0 111.0,553.0 117.0,547.0 125.0,543.0 135.0,539.0 145.0,538.0 154.0,536.0 163.0,534.0 171.0,533.6 188.0,535.0 191.6,538.0 201.0,546.0 207.0,543.0 219.0,544.0 231.0,548.0 237.0,550.0 247.0,546.0 255.0,547.0 263.0,548.0" fill="none" stroke="#ff0000" stroke-width="3.1" stroke-linejoin="round"/>
</g>
<line x1="117.5" y1="469.5" x2="117.5" y2="601.5" stroke="#2a2a2a" stroke-width="0.95" stroke-dasharray="2.5,2.1"/>
<line x1="191.5" y1="469.5" x2="191.5" y2="601.5" stroke="#2a2a2a" stroke-width="0.95" stroke-dasharray="2.5,2.1"/>
<text x="31.1" y="608.8" font-size="18.9" text-anchor="middle" fill="#262626">3</text>
<text x="31.1" y="575.8" font-size="18.9" text-anchor="middle" fill="#262626">6</text>
<text x="31.1" y="542.8" font-size="18.9" text-anchor="middle" fill="#262626">9</text>
<text x="31.1" y="509.8" font-size="18.9" text-anchor="middle" fill="#262626">12</text>
<text x="31.1" y="476.8" font-size="18.9" text-anchor="middle" fill="#262626">15</text>
<text x="49.4" y="487.8" font-size="20.6" font-weight="bold" fill="#000">(a4)</text>
<text x="51.3" y="503.5" font-size="14" font-weight="bold" fill="#ff0000">6.87±3.02</text>
<text x="51.3" y="516.5" font-size="14" font-weight="bold" fill="#00ff00">6.84±2.79</text>
<text x="51.3" y="529.0" font-size="14" font-weight="bold" fill="#0000ff">7.71±3.33</text>
<text x="124" y="483.5" font-size="14" font-weight="bold" fill="#ff0000">8.87±3.39</text>
<text x="124" y="496.5" font-size="14" font-weight="bold" fill="#00ff00">7.96±3.09</text>
<text x="124" y="509.5" font-size="14" font-weight="bold" fill="#0000ff">8.69±3.39</text>
<text x="196.5" y="503.5" font-size="14" font-weight="bold" fill="#ff0000">8.07±3.54</text>
<text x="196.5" y="516.5" font-size="14" font-weight="bold" fill="#00ff00">7.13±3.04</text>
<text x="196.5" y="529.5" font-size="14" font-weight="bold" fill="#0000ff">7.27±3.62</text>
<g>
<clipPath id="cpb4"><rect x="290.5" y="469.5" width="216" height="132"/></clipPath>
<line x1="303.3" y1="469.5" x2="303.3" y2="601.5" stroke="#e3e3e3" stroke-width="1"/>
<line x1="494" y1="469.5" x2="494" y2="601.5" stroke="#e3e3e3" stroke-width="1"/>
<rect x="290.5" y="469.5" width="216" height="132" fill="none" stroke="#7a7a7a" stroke-width="1.2"/>
<line x1="290" y1="601.5" x2="292.5" y2="601.5" stroke="#555" stroke-width="1"/>
<line x1="506" y1="601.5" x2="503.5" y2="601.5" stroke="#555" stroke-width="1"/>
<line x1="290" y1="557.5" x2="292.5" y2="557.5" stroke="#555" stroke-width="1"/>
<line x1="506" y1="557.5" x2="503.5" y2="557.5" stroke="#555" stroke-width="1"/>
<line x1="290" y1="513.5" x2="292.5" y2="513.5" stroke="#555" stroke-width="1"/>
<line x1="506" y1="513.5" x2="503.5" y2="513.5" stroke="#555" stroke-width="1"/>
<line x1="290" y1="469.5" x2="292.5" y2="469.5" stroke="#555" stroke-width="1"/>
<line x1="506" y1="469.5" x2="503.5" y2="469.5" stroke="#555" stroke-width="1"/>
<line x1="303.3" y1="601.5" x2="303.3" y2="599.0" stroke="#666" stroke-width="1"/>
<line x1="303.3" y1="469.5" x2="303.3" y2="472.0" stroke="#666" stroke-width="1"/>
<line x1="494" y1="601.5" x2="494" y2="599.0" stroke="#666" stroke-width="1"/>
<line x1="494" y1="469.5" x2="494" y2="472.0" stroke="#666" stroke-width="1"/>
<g clip-path="url(#cpb4)">
<polygon points="289.0,528.0 309.0,520.0 319.0,516.4 329.0,512.4 339.0,509.0 349.0,504.0 357.0,500.0 365.0,504.0 373.0,505.0 389.0,506.0 398.0,507.0 415.0,506.0 433.0,504.0 435.6,499.0 439.0,495.0 451.0,495.0 459.0,494.0 463.0,490.0 475.0,494.0 507.0,496.0 507.0,570.0 455.0,578.0 439.0,584.0 433.0,586.0 398.0,586.0 349.0,586.0 325.0,587.0 319.0,590.0 309.0,592.4 301.0,590.0 289.0,590.0" fill="rgb(118,132,196)" fill-opacity="1"/>
<polygon points="289.0,517.6 301.0,518.0 309.0,519.0 329.0,520.0 349.0,524.0 358.0,528.0 361.0,530.0 379.0,532.0 398.0,533.0 415.0,533.0 433.0,531.0 437.0,524.0 441.0,518.0 451.0,510.0 475.0,510.0 507.0,512.0 507.0,579.0 495.0,579.0 475.0,579.0 465.0,580.0 455.0,581.0 447.0,583.0 439.0,588.0 433.0,591.0 398.0,592.0 379.0,591.6 361.0,591.0 349.0,589.0 325.0,586.0 319.0,587.0 309.0,586.0 301.0,585.0 289.0,589.0" fill="rgb(136,211,174)" fill-opacity="0.8"/>
<polygon points="289.0,521.0 301.0,520.0 309.0,519.6 329.0,517.0 339.0,518.0 353.0,522.0 358.0,530.0 363.0,538.0 379.0,539.0 398.0,539.0 415.0,538.0 433.0,536.0 435.6,532.0 439.0,526.0 445.0,516.0 455.0,500.0 463.0,490.0 469.0,484.0 479.0,485.0 487.0,489.0 495.0,488.0 501.0,487.0 507.0,492.0 507.0,571.0 495.0,572.0 485.0,572.0 475.0,574.0 463.0,576.0 455.0,579.0 447.0,582.0 439.0,585.0 433.0,589.0 415.0,590.0 398.0,591.0 379.0,590.0 361.0,589.0 349.0,587.0 341.0,588.0 329.0,586.0 323.0,587.0 313.0,584.0 301.0,583.0 289.0,584.0" fill="rgb(213,88,93)" fill-opacity="0.88"/>
<polyline points="291.0,558.0 301.0,559.0 309.0,558.0 319.0,554.0 329.0,552.0 339.0,549.0 349.0,545.0 357.0,540.0 365.0,541.0 379.0,542.0 398.0,540.0 415.0,540.0 431.0,539.0 437.0,534.0 447.0,535.0 457.0,534.0 467.0,537.0 475.0,538.0 481.0,539.0 489.0,543.0 499.0,543.0 507.0,543.0" fill="none" stroke="#0000ff" stroke-width="3.1" stroke-linejoin="round"/>
<polyline points="291.0,554.0 301.0,553.0 319.0,553.0 339.0,553.0 353.0,554.0 359.0,557.0 365.0,562.0 379.0,563.0 398.0,563.0 425.0,562.0 432.0,561.0 437.0,554.0 445.0,551.0 455.0,550.0 475.0,548.0 495.0,547.0 507.0,546.0" fill="none" stroke="#00ff00" stroke-width="3.1" stroke-linejoin="round"/>
<polyline points="291.0,554.0 301.0,551.0 309.0,553.0 319.0,552.0 329.0,551.0 339.0,553.0 347.0,555.0 353.0,555.0 359.0,559.0 365.0,564.0 379.0,566.0 398.0,566.0 415.0,565.0 432.0,563.0 437.0,558.0 445.0,549.0 455.0,540.0 465.0,532.0 471.0,529.0 479.0,530.0 495.0,530.0 507.0,533.0" fill="none" stroke="#ff0000" stroke-width="3.1" stroke-linejoin="round"/>
</g>
<line x1="361.5" y1="469.5" x2="361.5" y2="601.5" stroke="#2a2a2a" stroke-width="0.95" stroke-dasharray="2.5,2.1"/>
<line x1="435.5" y1="469.5" x2="435.5" y2="601.5" stroke="#2a2a2a" stroke-width="0.95" stroke-dasharray="2.5,2.1"/>
<text x="280.4" y="608.8" font-size="18.9" text-anchor="middle" fill="#262626">0</text>
<text x="280.4" y="564.8" font-size="18.9" text-anchor="middle" fill="#262626">1</text>
<text x="280.4" y="520.8" font-size="18.9" text-anchor="middle" fill="#262626">2</text>
<text x="280.4" y="476.8" font-size="18.9" text-anchor="middle" fill="#262626">3</text>
<text x="293.4" y="487.8" font-size="20.6" font-weight="bold" fill="#000">(b4)</text>
<text x="295.3" y="503.5" font-size="14" font-weight="bold" fill="#ff0000">1.09±0.74</text>
<text x="295.3" y="516.5" font-size="14" font-weight="bold" fill="#00ff00">1.11±0.76</text>
<text x="295.3" y="529.0" font-size="14" font-weight="bold" fill="#0000ff">1.15±0.80</text>
<text x="368" y="483.5" font-size="14" font-weight="bold" fill="#ff0000">0.83±0.60</text>
<text x="368" y="496.5" font-size="14" font-weight="bold" fill="#00ff00">0.91±0.67</text>
<text x="368" y="509.5" font-size="14" font-weight="bold" fill="#0000ff">1.39±0.79</text>
<text x="440.5" y="503.5" font-size="14" font-weight="bold" fill="#ff0000">1.48±0.94</text>
<text x="440.5" y="516.5" font-size="14" font-weight="bold" fill="#00ff00">1.21±0.73</text>
<text x="440.5" y="529.5" font-size="14" font-weight="bold" fill="#0000ff">1.44±0.85</text>
<g>
<clipPath id="cpc4"><rect x="534.5" y="469.5" width="216" height="132"/></clipPath>
<line x1="547.3" y1="469.5" x2="547.3" y2="601.5" stroke="#e3e3e3" stroke-width="1"/>
<line x1="738" y1="469.5" x2="738" y2="601.5" stroke="#e3e3e3" stroke-width="1"/>
<rect x="534.5" y="469.5" width="216" height="132" fill="none" stroke="#7a7a7a" stroke-width="1.2"/>
<line x1="534" y1="601.5" x2="536.5" y2="601.5" stroke="#555" stroke-width="1"/>
<line x1="750" y1="601.5" x2="747.5" y2="601.5" stroke="#555" stroke-width="1"/>
<line x1="534" y1="557.5" x2="536.5" y2="557.5" stroke="#555" stroke-width="1"/>
<line x1="750" y1="557.5" x2="747.5" y2="557.5" stroke="#555" stroke-width="1"/>
<line x1="534" y1="513.5" x2="536.5" y2="513.5" stroke="#555" stroke-width="1"/>
<line x1="750" y1="513.5" x2="747.5" y2="513.5" stroke="#555" stroke-width="1"/>
<line x1="534" y1="469.5" x2="536.5" y2="469.5" stroke="#555" stroke-width="1"/>
<line x1="750" y1="469.5" x2="747.5" y2="469.5" stroke="#555" stroke-width="1"/>
<line x1="547.3" y1="601.5" x2="547.3" y2="599.0" stroke="#666" stroke-width="1"/>
<line x1="547.3" y1="469.5" x2="547.3" y2="472.0" stroke="#666" stroke-width="1"/>
<line x1="738" y1="601.5" x2="738" y2="599.0" stroke="#666" stroke-width="1"/>
<line x1="738" y1="469.5" x2="738" y2="472.0" stroke="#666" stroke-width="1"/>
<g clip-path="url(#cpc4)">
<polygon points="533.0,501.0 553.0,498.0 573.0,495.0 583.0,494.0 593.0,492.0 601.0,490.0 605.0,496.0 609.0,497.0 633.0,497.0 642.0,497.0 659.0,497.0 675.0,494.0 679.6,486.0 687.0,480.0 699.0,478.0 711.0,474.0 719.0,473.0 739.0,472.0 743.0,469.0 751.0,469.0 751.0,556.0 699.0,566.0 679.6,572.0 675.0,575.0 642.0,576.0 593.0,575.0 577.0,579.0 569.0,580.0 557.0,582.0 545.0,585.0 533.0,587.0" fill="rgb(118,132,196)" fill-opacity="1"/>
<polygon points="533.0,495.6 553.0,495.0 573.0,496.0 593.0,496.0 603.0,497.0 607.0,510.0 642.0,512.4 675.0,510.0 679.6,496.0 683.0,493.0 699.0,490.0 751.0,482.0 751.0,567.0 739.0,567.0 719.0,568.0 699.0,570.0 689.0,572.0 679.6,574.0 675.0,578.0 642.0,580.0 613.0,579.0 605.0,578.0 593.0,577.0 573.0,579.6 553.0,581.0 533.0,583.0" fill="rgb(136,211,174)" fill-opacity="0.8"/>
<polygon points="533.0,499.0 553.0,498.0 573.0,498.0 593.0,498.0 601.0,499.0 607.0,511.0 623.0,512.0 642.0,513.0 659.0,512.0 675.0,509.0 679.6,502.0 683.0,500.0 693.0,489.0 703.0,484.0 711.0,479.0 723.0,474.0 739.0,473.0 747.0,469.0 751.0,469.0 751.0,557.0 739.0,558.0 729.0,559.0 719.0,561.0 709.0,564.0 699.0,567.0 689.0,570.0 679.6,574.0 675.0,577.0 659.0,579.0 642.0,579.0 623.0,578.0 605.0,576.0 593.0,576.0 573.0,578.0 553.0,580.0 533.0,581.0" fill="rgb(213,88,93)" fill-opacity="0.88"/>
<polyline points="535.0,548.0 545.0,547.0 553.0,545.0 565.0,543.0 573.0,540.0 583.0,537.0 593.0,530.0 601.0,528.0 607.0,531.0 623.0,531.0 642.0,531.0 659.0,530.0 675.0,529.0 679.6,525.0 685.0,519.0 695.0,516.0 707.0,514.0 719.0,513.0 731.0,514.0 739.0,515.0 751.0,515.0" fill="none" stroke="#0000ff" stroke-width="3.1" stroke-linejoin="round"/>
<polyline points="535.0,540.0 553.0,539.0 573.0,538.0 593.0,536.0 601.0,537.0 607.0,543.0 623.0,546.0 642.0,547.0 649.0,547.0 669.0,546.0 675.0,545.0 679.6,535.0 689.0,532.0 699.0,529.0 719.0,528.0 739.0,527.0 751.0,527.0" fill="none" stroke="#00ff00" stroke-width="3.1" stroke-linejoin="round"/>
<polyline points="535.0,541.0 545.0,539.0 559.0,540.0 569.0,537.0 577.0,537.0 583.0,539.0 593.0,538.0 601.0,538.0 607.0,545.0 623.0,546.0 642.0,546.0 649.0,546.0 669.0,545.0 675.0,543.0 679.6,537.0 687.0,533.0 699.0,526.0 711.0,520.0 719.0,517.0 729.0,517.0 739.0,515.0 751.0,513.0" fill="none" stroke="#ff0000" stroke-width="3.1" stroke-linejoin="round"/>
</g>
<line x1="605.5" y1="469.5" x2="605.5" y2="601.5" stroke="#2a2a2a" stroke-width="0.95" stroke-dasharray="2.5,2.1"/>
<line x1="679.5" y1="469.5" x2="679.5" y2="601.5" stroke="#2a2a2a" stroke-width="0.95" stroke-dasharray="2.5,2.1"/>
<text x="530.8" y="606.7" font-size="12.8" text-anchor="end" fill="#262626">300</text>
<text x="530.8" y="562.7" font-size="12.8" text-anchor="end" fill="#262626">400</text>
<text x="530.8" y="518.7" font-size="12.8" text-anchor="end" fill="#262626">500</text>
<text x="530.8" y="474.7" font-size="12.8" text-anchor="end" fill="#262626">600</text>
<text x="537.4" y="487.8" font-size="20.6" font-weight="bold" fill="#000">(c4)</text>
<text x="539.3" y="503.5" font-size="14" font-weight="bold" fill="#ff0000">444±91</text>
<text x="539.3" y="516.5" font-size="14" font-weight="bold" fill="#00ff00">445±95</text>
<text x="539.3" y="529.0" font-size="14" font-weight="bold" fill="#0000ff">439±87</text>
<text x="612" y="483.5" font-size="14" font-weight="bold" fill="#ff0000">428±75</text>
<text x="612" y="496.5" font-size="14" font-weight="bold" fill="#00ff00">426±76</text>
<text x="612" y="509.5" font-size="14" font-weight="bold" fill="#0000ff">461±78</text>
<text x="684.5" y="503.5" font-size="14" font-weight="bold" fill="#ff0000">484±95</text>
<text x="684.5" y="516.5" font-size="14" font-weight="bold" fill="#00ff00">466±92</text>
<text x="684.5" y="529.5" font-size="14" font-weight="bold" fill="#0000ff">496±94</text>
<text x="154.5" y="22.5" font-size="20.6" font-weight="bold" fill="#262626" text-anchor="middle">B (nT)</text>
<text x="398.5" y="22.5" font-size="20.6" font-weight="bold" fill="#262626" text-anchor="middle">Proton Temperature (10<tspan font-size="15.3" dy="-10.2" dx="2.2">5</tspan><tspan dy="10.2" dx="0.4">K)</tspan></text>
<text x="642" y="22.5" font-size="20.6" font-weight="bold" fill="#262626" text-anchor="middle">Speed (km/s)</text>
<text transform="translate(14.3,97.5) rotate(-90)" font-size="18.3" font-weight="bold" fill="#262626" text-anchor="middle">SFRs (CH)</text>
<text transform="translate(14.3,243.5) rotate(-90)" font-size="18.3" font-weight="bold" fill="#262626" text-anchor="middle">SFRs (AR)</text>
<text transform="translate(14.3,389.5) rotate(-90)" font-size="18.3" font-weight="bold" fill="#262626" text-anchor="middle">SFRs (QS)</text>
<text transform="translate(14.3,535.5) rotate(-90)" font-size="18.3" font-weight="bold" fill="#262626" text-anchor="middle">SFRs (ALL)</text>
<text x="59.3" y="621.0" font-size="15.1" fill="#262626" text-anchor="middle">t<tspan font-size="11.3" dy="7">LE</tspan><tspan dy="-7">-12</tspan></text>
<text x="117.5" y="621.0" font-size="15.1" fill="#262626" text-anchor="middle">t<tspan font-size="11.3" dy="7">LE</tspan><tspan dy="-7"></tspan></text>
<text x="191.5" y="621.0" font-size="15.1" fill="#262626" text-anchor="middle">t<tspan font-size="11.3" dy="7">TE</tspan><tspan dy="-7"></tspan></text>
<text x="250" y="621.0" font-size="15.1" fill="#262626" text-anchor="middle">t<tspan font-size="11.3" dy="7">TE</tspan><tspan dy="-7">+12</tspan></text>
<text x="154.5" y="649.0" font-size="18.3" font-weight="bold" fill="#262626" text-anchor="middle">Time (hour)</text>
<text x="303.3" y="621.0" font-size="15.1" fill="#262626" text-anchor="middle">t<tspan font-size="11.3" dy="7">LE</tspan><tspan dy="-7">-12</tspan></text>
<text x="361.5" y="621.0" font-size="15.1" fill="#262626" text-anchor="middle">t<tspan font-size="11.3" dy="7">LE</tspan><tspan dy="-7"></tspan></text>
<text x="435.5" y="621.0" font-size="15.1" fill="#262626" text-anchor="middle">t<tspan font-size="11.3" dy="7">TE</tspan><tspan dy="-7"></tspan></text>
<text x="494" y="621.0" font-size="15.1" fill="#262626" text-anchor="middle">t<tspan font-size="11.3" dy="7">TE</tspan><tspan dy="-7">+12</tspan></text>
<text x="398.5" y="649.0" font-size="18.3" font-weight="bold" fill="#262626" text-anchor="middle">Time (hour)</text>
<text x="547.3" y="621.0" font-size="15.1" fill="#262626" text-anchor="middle">t<tspan font-size="11.3" dy="7">LE</tspan><tspan dy="-7">-12</tspan></text>
<text x="605.5" y="621.0" font-size="15.1" fill="#262626" text-anchor="middle">t<tspan font-size="11.3" dy="7">LE</tspan><tspan dy="-7"></tspan></text>
<text x="679.5" y="621.0" font-size="15.1" fill="#262626" text-anchor="middle">t<tspan font-size="11.3" dy="7">TE</tspan><tspan dy="-7"></tspan></text>
<text x="738" y="621.0" font-size="15.1" fill="#262626" text-anchor="middle">t<tspan font-size="11.3" dy="7">TE</tspan><tspan dy="-7">+12</tspan></text>
<text x="642.5" y="649.0" font-size="18.3" font-weight="bold" fill="#262626" text-anchor="middle">Time (hour)</text>
</svg></body></html>
